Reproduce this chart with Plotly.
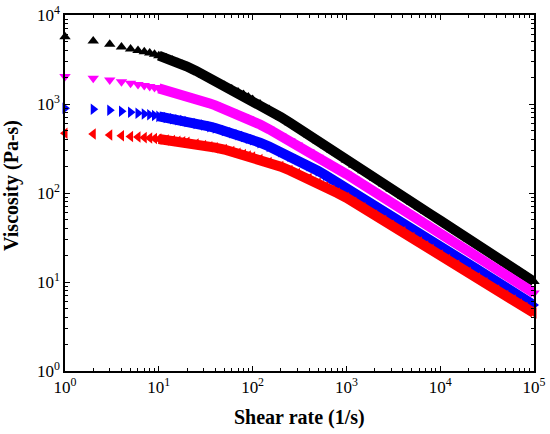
import plotly.graph_objects as go

# shear rate (1/s) shared by all four curves
shear_rate = [1, 2, 3, 4, 5, 6, 7, 8, 9, 10,
              12, 14, 16, 18, 20, 25, 30, 35, 40,
              50, 60, 70, 80, 90, 100, 120, 150, 200, 250, 300,
              400, 500, 600, 700, 800, 1000, 1200, 1500, 2000, 2500, 3000,
              4000, 5000, 6000, 7000, 8000, 10000, 12000, 15000, 20000, 25000, 30000,
              40000, 50000, 60000, 70000, 80000, 100000]

# viscosity (Pa-s)
visc_black = [5700, 5100, 4690, 4370, 4150, 3990, 3860, 3740, 3620, 3490,
              3290, 3100, 2930, 2780, 2640, 2350, 2120, 1945, 1810,
              1610, 1470, 1360, 1280, 1200, 1120, 1000, 868, 714, 615, 545,
              448, 384, 339, 304, 278, 235, 207, 178, 147, 126, 111,
              91.6, 78.6, 69.4, 62.6, 57.2, 49.1, 43.4, 37.3, 30.7, 26.3, 23.2,
              19.1, 16.4, 14.5, 13.1, 11.95, 10.1]
visc_magenta = [2040, 1945, 1860, 1775, 1710, 1655, 1615, 1575, 1530, 1500,
                1430, 1370, 1310, 1260, 1220, 1138, 1072, 1016, 967,
                883, 817, 764, 720, 682, 649, 588, 520, 441, 387, 346,
                290, 252, 225, 204, 187, 163, 145, 125, 103, 88.6, 78.4,
                64.7, 55.7, 49.4, 44.5, 40.7, 35.1, 31.1, 26.7, 22.1, 19.0, 16.8,
                13.9, 12.0, 10.6, 9.55, 8.74, 7.52]
visc_blue = [895, 872, 852, 828, 807, 788, 772, 756, 741, 726,
             704, 684, 666, 651, 636, 605, 581, 557, 537,
             504, 476, 452, 431, 413, 397, 368, 333, 290, 259, 236,
             203, 177, 158.5, 143.7, 132, 115, 102, 88.3, 72.9, 62.9, 55.9,
             46.1, 39.8, 35.3, 31.9, 29.2, 25.2, 22.4, 19.3, 16.0, 13.8, 12.2,
             10.1, 8.72, 7.72, 6.98, 6.39, 5.51]
visc_red = [469, 460, 448, 439, 431, 425, 419, 414, 409, 404,
            395, 388, 382, 376, 371, 355, 342, 331, 323,
            308, 293, 280, 270, 261, 254, 238, 220, 198, 179, 165,
            145, 128.5, 116.5, 107.2, 100, 88.6, 78.6, 68.2, 56.4, 49.0, 43.5,
            36.6, 31.6, 28.1, 25.4, 23.2, 20.1, 17.9, 15.4, 12.8, 11.1, 9.82,
            8.15, 7.05, 6.26, 5.66, 5.18, 4.48]

x_ticks = [1, 10, 100, 1000, 10000, 100000]
x_ticktext = ["10<sup>0</sup>", "10<sup>1</sup>", "10<sup>2</sup>",
              "10<sup>3</sup>", "10<sup>4</sup>", "10<sup>5</sup>"]
y_ticks = [1, 10, 100, 1000, 10000]
y_ticktext = ["10<sup>0</sup>", "10<sup>1</sup>", "10<sup>2</sup>",
              "10<sup>3</sup>", "10<sup>4</sup>"]
minor_x = [m * 10 ** k for k in range(5) for m in range(2, 10)]
minor_y = [m * 10 ** k for k in range(4) for m in range(2, 10)]

series = [
    (visc_black, "triangle-up", "#000000"),
    (visc_blue, "triangle-right", "#0000ff"),
    (visc_magenta, "triangle-down", "#ff00ff"),
    (visc_red, "triangle-left", "#ff0000"),
]

fig = go.Figure()

for vals, sym, col in series:
    # dense part: markers overlap into a solid band, a thick line fills the gaps
    fig.add_trace(go.Scatter(
        x=shear_rate[9:], y=vals[9:], mode="lines",
        line=dict(color=col, width=10), hoverinfo="skip"
    ))
    fig.add_trace(go.Scatter(
        x=shear_rate, y=vals, mode="markers", cliponaxis=False,
        marker=dict(symbol=sym, size=10, color=col, line=dict(width=0))
    ))

# empty trace so the overlay axes (minor ticks) get drawn
fig.add_trace(go.Scatter(x=[], y=[], xaxis="x2", yaxis="y2", hoverinfo="skip"))

frame = dict(
    type="log", automargin=False,
    showline=True, linecolor="black", linewidth=1.5,
    mirror="ticks", ticks="inside", tickwidth=1, tickcolor="black",
    showgrid=False, zeroline=False,
    tickmode="array",
)

fig.update_layout(
    xaxis=dict(frame, range=[0, 5], ticklen=5, tickvals=x_ticks, ticktext=x_ticktext,
               tickfont=dict(family="Liberation Serif", size=17, color="black")),
    yaxis=dict(frame, range=[0, 4], ticklen=5, tickvals=y_ticks, ticktext=y_ticktext,
               tickfont=dict(family="Liberation Serif", size=17, color="black")),
    xaxis2=dict(frame, range=[0, 5], ticklen=3, tickvals=minor_x,
                showticklabels=False, overlaying="x", anchor="y", side="bottom"),
    yaxis2=dict(frame, range=[0, 4], ticklen=3, tickvals=minor_y,
                showticklabels=False, overlaying="y", anchor="x", side="left"),
)

fig.add_annotation(
    xref="paper", yref="paper", x=0.5, y=-0.13,
    text="<b>Shear rate (1/s)</b>", showarrow=False,
    font=dict(family="Liberation Serif", size=20, color="black"),
    xanchor="center", yanchor="middle"
)
fig.add_annotation(
    xref="paper", yref="paper", x=-0.113, y=0.52,
    text="<b>Viscosity (Pa-s)</b>", showarrow=False, textangle=-90,
    font=dict(family="Liberation Serif", size=20, color="black"),
    xanchor="center", yanchor="middle"
)

fig.update_layout(
    width=550, height=434,
    margin=dict(l=65, r=16, t=15, b=63),
    showlegend=False,
    plot_bgcolor="white",
    paper_bgcolor="white",
)

# drop the page's default body margin so the figure sits at the window's corner
fig.write_html("out.html", config={"displayModeBar": False},
               post_script="document.body.style.margin = '0px';")
